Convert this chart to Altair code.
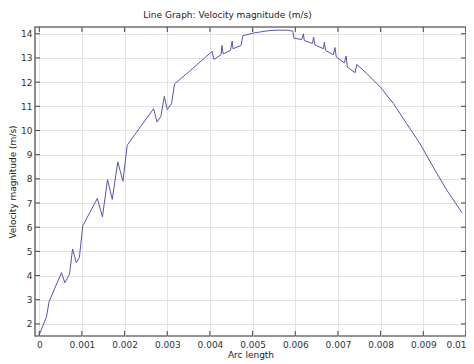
import altair as alt
import pandas as pd

arc = [0, 0.00017, 0.00023, 0.00052, 0.0006, 0.00071, 0.00078, 0.00087, 0.00094, 0.00102,
       0.00136, 0.00148, 0.0016, 0.00171, 0.00184, 0.00196, 0.00206, 0.00237, 0.00268, 0.00276,
       0.00285, 0.00293, 0.003, 0.0031, 0.00317, 0.0033, 0.00354, 0.0037, 0.0039, 0.00405,
       0.00409, 0.00426, 0.00428, 0.00431, 0.00448, 0.00452, 0.00454, 0.00473, 0.00477, 0.00502,
       0.00534, 0.00557, 0.0058, 0.00594, 0.00597, 0.00615, 0.00619, 0.00621, 0.0064, 0.00643,
       0.00646, 0.00666, 0.00668, 0.00671, 0.00689, 0.00693, 0.00696, 0.00715, 0.00719, 0.00722,
       0.0074, 0.00744, 0.00768, 0.00799, 0.0083, 0.00861, 0.00892, 0.00923, 0.00955, 0.00991]
vel = [1.55, 2.3, 2.92, 4.12, 3.7, 4.06, 5.1, 4.53, 4.75, 6.06,
       7.19, 6.43, 7.97, 7.15, 8.7, 7.9, 9.39, 10.15, 10.9, 10.35,
       10.58, 11.41, 10.86, 11.11, 11.92, 12.12, 12.48, 12.73, 13.04, 13.27,
       12.94, 13.13, 13.52, 13.17, 13.31, 13.7, 13.38, 13.52, 13.92, 14.03,
       14.12, 14.15, 14.15, 14.11, 13.82, 13.76, 14.0, 13.72, 13.6, 13.86,
       13.54, 13.38, 13.65, 13.31, 13.13, 13.43, 13.04, 12.8, 13.08, 12.62,
       12.39, 12.73, 12.35, 11.8, 11.11, 10.28, 9.46, 8.49, 7.53, 6.59]

x_ticks = [0, 0.001, 0.002, 0.003, 0.004, 0.005, 0.006, 0.007, 0.008, 0.009, 0.01]
y_ticks = [2, 3, 4, 5, 6, 7, 8, 9, 10, 11, 12, 13, 14]

W, H = 431, 309
FONT = "DejaVu Sans"
X_TITLE = "Arc length"
Y_TITLE = "Velocity magnitude (m/s)"

df = pd.DataFrame({"arc": arc, "vel": vel})
dx = pd.DataFrame({"t": x_ticks})
dy = pd.DataFrame({"t": y_ticks})

xscale = alt.Scale(domain=[-0.0001, 0.01], nice=False, zero=False)
yscale = alt.Scale(domain=[1.5, 14.28], nice=False, zero=False)

xaxis = alt.Axis(values=x_ticks, format="~g", grid=True, gridColor="#e3e3e3",
                 ticks=False, domain=False, labelPadding=4, titlePadding=1,
                 labelOverlap=False, labelFlush=False,
                 labelAlign=alt.condition("datum.value >= 0.0099", alt.value("right"), alt.value("center")))
yaxis = alt.Axis(values=y_ticks, grid=True, gridColor="#e3e3e3",
                 ticks=False, domain=False, labelPadding=3, titlePadding=3,
                 labelOverlap=False, labelFlush=False)

line = alt.Chart(df).mark_line(color="#5656a6", strokeWidth=1.0).encode(
    x=alt.X("arc:Q", scale=xscale, title=X_TITLE, axis=xaxis),
    y=alt.Y("vel:Q", scale=yscale, title=Y_TITLE, axis=yaxis),
)

tick_col = "#444444"
xt_bot = alt.Chart(dx).mark_rule(color=tick_col, strokeWidth=1).encode(
    x=alt.X("t:Q", scale=xscale, title=X_TITLE, axis=xaxis), y=alt.value(H), y2=alt.value(H - 5))
xt_top = alt.Chart(dx).mark_rule(color=tick_col, strokeWidth=1).encode(
    x=alt.X("t:Q", scale=xscale, title=X_TITLE, axis=xaxis), y=alt.value(0), y2=alt.value(5))
yt_left = alt.Chart(dy).mark_rule(color=tick_col, strokeWidth=1).encode(
    y=alt.Y("t:Q", scale=yscale, title=Y_TITLE, axis=yaxis), x=alt.value(0), x2=alt.value(5))
yt_right = alt.Chart(dy).mark_rule(color=tick_col, strokeWidth=1).encode(
    y=alt.Y("t:Q", scale=yscale, title=Y_TITLE, axis=yaxis), x=alt.value(W), x2=alt.value(W - 5))

chart = alt.layer(line, xt_bot, xt_top, yt_left, yt_right).properties(
    width=W, height=H,
    title=alt.TitleParams("Line Graph: Velocity magnitude (m/s)", font=FONT, fontSize=9,
                          fontWeight="normal", color="#222222", dx=-23, offset=7),
    autosize=alt.AutoSizeParams(type="none"),
    padding={"left": 27, "top": 19, "right": 0, "bottom": 28},
).configure_view(
    stroke="#707070", strokeWidth=1.6
).configure_axis(
    labelFont=FONT, titleFont=FONT, labelFontSize=9, titleFontSize=9,
    labelColor="#333333", titleColor="#222222", titleFontWeight="normal"
)

chart.save("out.html", embed_options={"renderer": "svg", "actions": False})
